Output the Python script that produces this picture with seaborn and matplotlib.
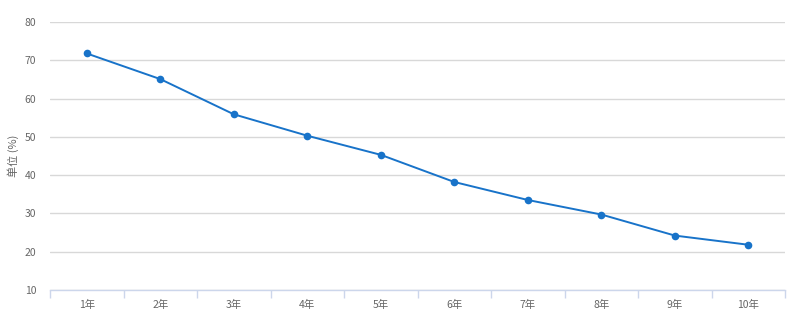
import matplotlib
matplotlib.use("Agg")
import matplotlib.pyplot as plt
import seaborn as sns
import pandas as pd
from matplotlib.ticker import FixedLocator

categories = ["1年", "2年", "3年", "4年", "5年", "6年", "7年", "8年", "9年", "10年"]
values = [71.8, 65.1, 55.9, 50.3, 45.3, 38.2, 33.5, 29.7, 24.2, 21.8]
y_ticks = [10, 20, 30, 40, 50, 60, 70, 80]

sns.set_style("white")
plt.rcParams['font.family'] = ['Noto Sans CJK SC', 'DejaVu Sans']

df = pd.DataFrame({"pos": range(len(categories)), "value": values})

fig = plt.figure(figsize=(8, 3.2), dpi=100)
ax = fig.add_axes([0.0625, 0.094, 0.919, 0.837])

color = "#1873c9"
sns.lineplot(data=df, x="pos", y="value", ax=ax, color=color, linewidth=1.4,
             marker="o", markersize=5.5, markeredgewidth=0, markerfacecolor=color)

ax.set_xlim(-0.5, len(categories) - 0.5)
ax.set_ylim(10, 80)
ax.set_yticks(y_ticks)
ax.set_xticks(range(len(categories)))
ax.set_xticklabels(categories)
ax.xaxis.set_minor_locator(FixedLocator([i - 0.5 for i in range(len(categories) + 1)]))
ax.tick_params(axis="x", which="major", bottom=True, length=0, pad=7, labelsize=7.5, labelcolor="#666666")
ax.tick_params(axis="x", which="minor", bottom=True, length=6, width=1, color="#ccd6eb", direction="out")
ax.tick_params(axis="y", length=0, pad=10, labelsize=7.5, labelcolor="#666666")

ax.grid(axis="y", color="#d8d8d8", linewidth=1)
ax.set_axisbelow(True)
for s in ["top", "right", "left"]:
    ax.spines[s].set_visible(False)
ax.spines["bottom"].set_color("#ccd6eb")
ax.spines["bottom"].set_linewidth(1)

ax.set_xlabel("")
ax.set_ylabel("单位 (%)", fontsize=8, color="#666666", labelpad=4)

fig.savefig("out.png", dpi=100)
